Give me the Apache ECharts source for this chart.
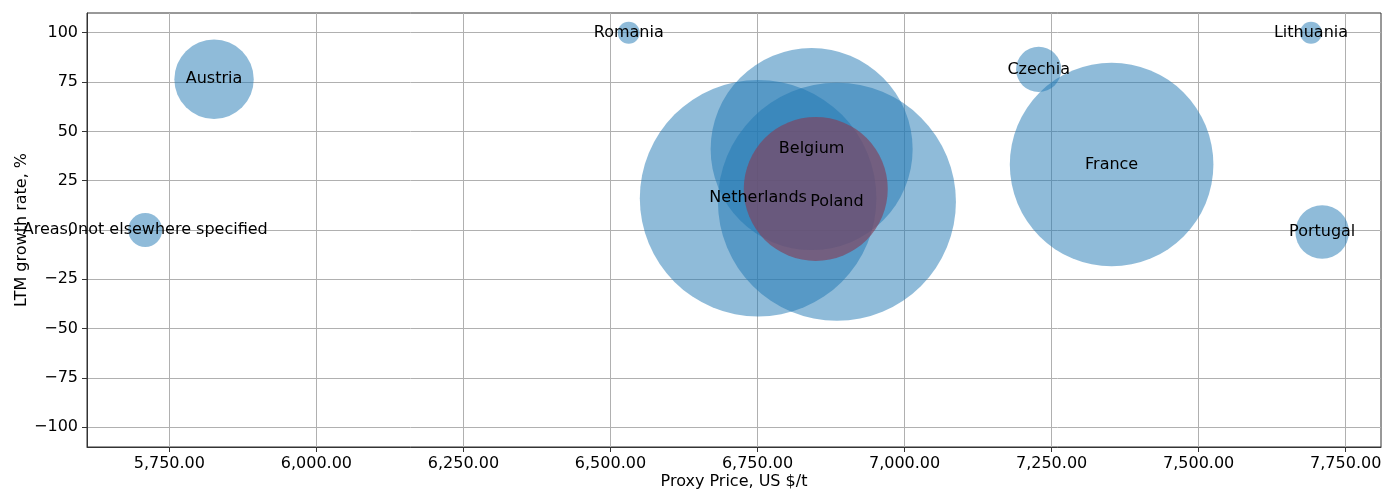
<!DOCTYPE html>
<html>
<head>
<meta charset="utf-8">
<script src="https://cdn.jsdelivr.net/npm/echarts@6/dist/echarts.min.js"></script>
<style>
  html, body { margin: 0; padding: 0; background: #fff; }
  #chart { width: 1386px; height: 490px; }
</style>
</head>
<body>
<div id="chart"></div>
<script>
// values
var countries = ['Areas, not elsewhere specified', 'Austria', 'Romania', 'Lithuania', 'Czechia',
                 'France', 'Portugal', 'Netherlands', 'Poland', 'Belgium'];
var prices  = [5709, 5826, 6531, 7691, 7228, 7352, 7710, 6751, 6885, 6842];
var growth  = [0, 76.4, 100, 100, 81.4, 33.2, -1, 16.1, 14.3, 41];
var volumes = [289, 1576, 121, 121, 511, 10363, 718, 13995, 14161, 10201];

// highlighted point (drawn on top, no label)
var focusPrice = 6849;
var focusGrowth = 20.8;
var focusVolume = 5184;

var xTicks = [5750, 6000, 6250, 6500, 6750, 7000, 7250, 7500, 7750];
var yTicks = [-100, -75, -50, -25, 0, 25, 50, 75, 100];

var FONT = 'DejaVu Sans';

function bubbleSize(v) { return 2 * Math.sqrt(v); }
function fmtPrice(v) {
  var s = v.toFixed(2).split('.');
  return s[0].replace(/\B(?=(\d{3})+(?!\d))/g, ',') + '.' + s[1];
}
function fmtGrowth(v) { return v < 0 ? '\u2212' + Math.abs(v) : String(v); }

var points = countries.map(function (c, i) {
  return { name: c, value: [prices[i], growth[i], volumes[i]] };
});

var chart = echarts.init(document.getElementById('chart'));
chart.setOption({
  animation: false,
  textStyle: { fontFamily: FONT },
  grid: {
    left: 87, right: 5, top: 13, bottom: 43, containLabel: false, outerBoundsMode: 'none',
    show: true, borderColor: '#333', borderWidth: 1
  },
  xAxis: {
    type: 'value', min: 5610, max: 7810,
    name: 'Proxy Price, US $/t', nameLocation: 'middle', nameGap: 27, nameMoveOverlap: false,
    nameTextStyle: { fontSize: 16, color: '#000', fontFamily: FONT },
    axisLine: { show: true, onZero: false, lineStyle: { color: '#333', width: 1 } },
    axisTick: { show: true, length: 5, customValues: xTicks, lineStyle: { color: '#333' } },
    axisLabel: { customValues: xTicks, margin: 9, fontSize: 16, color: '#000', fontFamily: FONT, formatter: fmtPrice },
    splitLine: { show: true, lineStyle: { color: '#b0b0b0', width: 1 } }
  },
  yAxis: {
    type: 'value', min: -110, max: 110,
    name: 'LTM growth rate, %', nameLocation: 'middle', nameGap: 57, nameMoveOverlap: false,
    nameTextStyle: { fontSize: 16, color: '#000', fontFamily: FONT },
    axisLine: { show: true, onZero: false, lineStyle: { color: '#333', width: 1 } },
    axisTick: { show: true, length: 5, customValues: yTicks, lineStyle: { color: '#333' } },
    axisLabel: { customValues: yTicks, margin: 9, fontSize: 16, color: '#000', fontFamily: FONT, formatter: fmtGrowth },
    splitLine: { show: true, lineStyle: { color: '#b0b0b0', width: 1 } }
  },
  series: [
    {
      type: 'scatter', z: 2,
      data: points,
      symbolSize: function (v) { return bubbleSize(v[2]); },
      itemStyle: { color: '#1f77b4', opacity: 0.5 }
    },
    {
      type: 'scatter', z: 3,
      data: [[focusPrice, focusGrowth, focusVolume]],
      symbolSize: function (v) { return bubbleSize(v[2]); },
      itemStyle: { color: 'rgb(130,64,90)', opacity: 0.65 }
    },
    {
      type: 'scatter', z: 10, silent: true,
      data: points,
      symbolSize: 1,
      itemStyle: { color: 'rgba(0,0,0,0)' },
      label: {
        show: true, position: 'inside', color: '#000', fontSize: 16, fontFamily: FONT,
        textBorderWidth: 0, opacity: 1,
        formatter: function (p) { return p.name; }
      }
    }
  ]
});
</script>
</body>
</html>
